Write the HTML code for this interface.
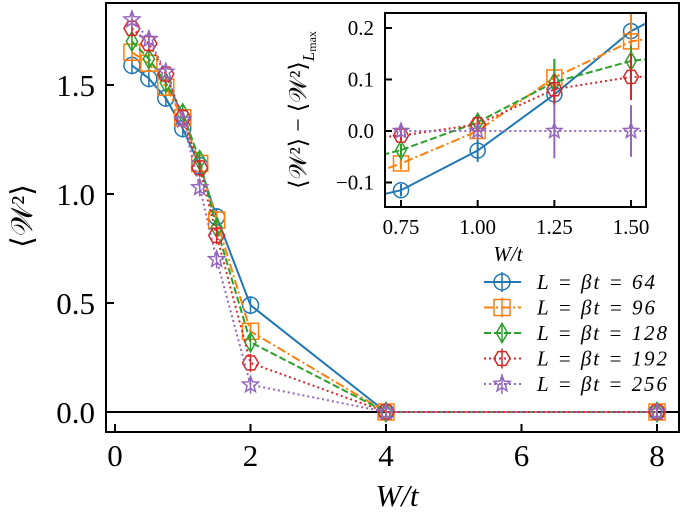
<!DOCTYPE html>
<html><head><meta charset="utf-8"><style>
html,body{margin:0;padding:0;background:#fff;}
svg{display:block;}
text{font-family:"Liberation Serif","DejaVu Serif",serif;fill:#000;}
</style></head><body>
<svg id="chart" width="685" height="518" viewBox="0 0 685 518" xmlns="http://www.w3.org/2000/svg">
<defs>
<clipPath id="mainClip"><rect x="106" y="3" width="573" height="429"/></clipPath>
<clipPath id="insetClip"><rect x="385" y="13" width="261" height="194"/></clipPath>
</defs>
<g id="main"></g>
<g id="inset"></g>
<g id="legend"></g>
</svg>
<script>
const xsMain = [0.25, 0.5, 0.75, 1.0, 1.25, 1.5, 2, 4, 8];
const seriesLabels = ["L = βt = 64", "L = βt = 96", "L = βt = 128", "L = βt = 192", "L = βt = 256"];
const main64  = [1.59, 1.53, 1.44, 1.30, 1.13, 0.895, 0.49, 0.0, 0.0];
const main96  = [1.65, 1.60, 1.49, 1.35, 1.14, 0.88, 0.37, 0.0, 0.0];
const main128 = [1.70, 1.62, 1.51, 1.37, 1.155, 0.845, 0.32, 0.0, 0.0];
const main192 = [1.76, 1.69, 1.55, 1.35, 1.12, 0.81, 0.225, 0.0, 0.0];
const main256 = [1.80, 1.71, 1.56, 1.34, 1.03, 0.70, 0.125, 0.0, 0.0];
const xsInset = [0.5, 0.75, 1.0, 1.25, 1.5, 2];
const inset64  = [-0.149, -0.115, -0.038, 0.071, 0.194, 0.347];
const inset96  = [-0.116, -0.063, 0.0, 0.104, 0.174, 0.22];
const inset128 = [-0.075, -0.037, 0.017, 0.095, 0.136, 0.17];
const inset192 = [-0.02, -0.009, 0.013, 0.081, 0.105, 0.105];
const inset256 = [0.0, 0.0, 0.0, 0.0, 0.0, 0.0];
const err64  = [0.01, 0.012, 0.022, 0.015, 0.04, 0.04];
const err96  = [0.01, 0.012, 0.012, 0.035, 0.06, 0.06];
const err128 = [0.01, 0.012, 0.015, 0.045, 0.03, 0.03];
const err192 = [0.01, 0.01, 0.015, 0.03, 0.045, 0.045];
const err256 = [0.01, 0.012, 0.015, 0.053, 0.05, 0.05];
const mainXTicks = [0, 2, 4, 6, 8];
const mainYTicks = [0.0, 0.5, 1.0, 1.5];
const insetXTicks = [0.75, 1.00, 1.25, 1.50];
const insetYTicks = [-0.1, 0.0, 0.1, 0.2];

const colors = ["#1f77b4", "#ff7f0e", "#2ca02c", "#d62728", "#9467bd"];
const dashes = ["", "9,3,2,3", "7,3", "2,3", "2,3"];
const shapes = ["circle", "square", "diamond", "hexagon", "star"];
const mainData = [main64, main96, main128, main192, main256];
const insetData = [inset64, inset96, inset128, inset192, inset256];
const insetErr = [err64, err96, err128, err192, err256];

const NS = "http://www.w3.org/2000/svg";
function mk(tag, attrs, parent) {
  const e = document.createElementNS(NS, tag);
  for (const k in attrs) e.setAttribute(k, attrs[k]);
  parent.appendChild(e);
  return e;
}
const mx = v => 115 + v * 67.75;
const my = v => 412 - v * 218;
const ix = v => 401 + (v - 0.75) * 306.7;
const iy = v => 131 - v * 515;

function marker(shape, cx, cy, r, color, parent) {
  let el;
  const st = {fill: "none", stroke: color, "stroke-width": 1.5};
  if (shape === "circle") el = mk("circle", Object.assign({cx: cx, cy: cy, r: r}, st), parent);
  else if (shape === "square") el = mk("rect", Object.assign({x: cx - r, y: cy - r, width: 2 * r, height: 2 * r}, st), parent);
  else {
    let pts = [];
    if (shape === "diamond") pts = [[0, -r * 1.2], [r * 0.7, 0], [0, r * 1.2], [-r * 0.7, 0]];
    else if (shape === "hexagon") for (let i = 0; i < 6; i++) { const a = Math.PI / 3 * i; pts.push([r * Math.cos(a), r * Math.sin(a)]); }
    else for (let i = 0; i < 10; i++) { const a = -Math.PI / 2 + Math.PI / 5 * i; const rr = i % 2 ? r * 0.45 : r * 1.05; pts.push([rr * Math.cos(a), rr * Math.sin(a)]); }
    el = mk("polygon", Object.assign({points: pts.map(p => (cx + p[0]) + "," + (cy + p[1])).join(" ")}, st), parent);
  }
  return el;
}

const main = document.getElementById("main");
const zl = mk("line", {x1: 106, x2: 679, y1: my(0), y2: my(0), stroke: "#000", "stroke-width": 2}, main);


const mg = mk("g", {"clip-path": "url(#mainClip)"}, main);
mainData.forEach((ys, s) => {
  const g = mk("g", {}, mg);
  
  
  const ln = mk("polyline", {points: ys.map((y, i) => mx(xsMain[i]) + "," + my(y)).join(" "), fill: "none", stroke: colors[s], "stroke-width": 2, "stroke-dasharray": dashes[s]}, g);
  
  
  ys.forEach((y, i) => {
    const eb = mk("line", {x1: mx(xsMain[i]), x2: mx(xsMain[i]), y1: my(y) - 9, y2: my(y) + 9, stroke: colors[s], "stroke-width": 1.5}, g);
    
    
    const m = marker(shapes[s], mx(xsMain[i]), my(y), 8, colors[s], g);
    
    
  });
});
const fr = mk("rect", {x: 106, y: 3, width: 573, height: 429, fill: "none", stroke: "#000", "stroke-width": 2}, main);


mainXTicks.forEach(t => {
  const tk = mk("line", {x1: mx(t), x2: mx(t), y1: 432, y2: 424, stroke: "#000", "stroke-width": 2}, main);
  
  
  const tl = mk("text", {x: mx(t), y: 466, "font-size": 31, "text-anchor": "middle"}, main);
  tl.textContent = String(t);
  
  
});
mainYTicks.forEach(t => {
  const tk = mk("line", {x1: 106, x2: 114, y1: my(t), y2: my(t), stroke: "#000", "stroke-width": 2}, main);
  
  
  const tl = mk("text", {x: 95, y: my(t) + 11, "font-size": 31, "text-anchor": "end"}, main);
  tl.textContent = t.toFixed(1);
  
  
});
const xt = mk("text", {x: 397, y: 506, "font-size": 31, "font-style": "italic", "text-anchor": "middle"}, main);
xt.textContent = "W/t";


const yt = mk("text", {x: 0, y: 0, "font-size": 30, "text-anchor": "middle", transform: "translate(32,216) rotate(-90)"}, main);
yt.textContent = "⟨𝒲²⟩";



const inset = document.getElementById("inset");
const ibg = mk("rect", {x: 385, y: 13, width: 261, height: 194, fill: "#fff"}, inset);


const ig = mk("g", {"clip-path": "url(#insetClip)"}, inset);
insetData.forEach((ys, s) => {
  const g = mk("g", {}, ig);
  
  
  const ln = mk("polyline", {points: ys.map((y, i) => ix(xsInset[i]) + "," + iy(y)).join(" "), fill: "none", stroke: colors[s], "stroke-width": 2, "stroke-dasharray": dashes[s]}, g);
  
  
  ys.forEach((y, i) => {
    const e = insetErr[s][i];
    const eb = mk("line", {x1: ix(xsInset[i]), x2: ix(xsInset[i]), y1: iy(y + e), y2: iy(y - e), stroke: colors[s], "stroke-width": 2}, g);
    
    
    const m = marker(shapes[s], ix(xsInset[i]), iy(y), 7.5, colors[s], g);
    
    
  });
});
const ifr = mk("rect", {x: 385, y: 13, width: 261, height: 194, fill: "none", stroke: "#000", "stroke-width": 2}, inset);


insetXTicks.forEach(t => {
  const tk = mk("line", {x1: ix(t), x2: ix(t), y1: 207, y2: 200, stroke: "#000", "stroke-width": 2}, inset);
  
  
  const tl = mk("text", {x: ix(t), y: 234, "font-size": 21, "text-anchor": "middle"}, inset);
  tl.textContent = t.toFixed(2);
  
  
});
insetYTicks.forEach(t => {
  const tk = mk("line", {x1: 385, x2: 392, y1: iy(t), y2: iy(t), stroke: "#000", "stroke-width": 2}, inset);
  
  
  const tl = mk("text", {x: 374, y: iy(t) + 7, "font-size": 21, "text-anchor": "end"}, inset);
  tl.textContent = (t < 0 ? "\u2212" : "") + Math.abs(t).toFixed(1);
  
  
});
const ixt = mk("text", {x: 508, y: 261, "font-size": 21, "font-style": "italic", "text-anchor": "middle"}, inset);
ixt.textContent = "W/t";


const iyt = mk("text", {x: 0, y: 0, "font-size": 24, "text-anchor": "middle", transform: "translate(306,110) rotate(-90)"}, inset);
iyt.innerHTML = "⟨𝒲²⟩ − ⟨𝒲²⟩<tspan font-size='17' font-style='italic' dy='8'>L</tspan><tspan font-size='12' dy='2'>max</tspan>";



const legend = document.getElementById("legend");
seriesLabels.forEach((lab, s) => {
  const y = 282 + s * 25.5;
  const g = mk("g", {}, legend);
  
  
  const ln = mk("line", {x1: 484, x2: 521, y1: y, y2: y, stroke: colors[s], "stroke-width": 2, "stroke-dasharray": dashes[s]}, g);
  
  
  const eb = mk("line", {x1: 502, x2: 502, y1: y - 10, y2: y + 10, stroke: colors[s], "stroke-width": 1.5}, g);
  
  
  const m = marker(shapes[s], 502, y, 8, colors[s], g);
  
  
  const t = mk("text", {x: 537, y: y + 7, "font-size": 21, "font-style": "italic", textLength: s < 2 ? 118 : 130, lengthAdjust: "spacing"}, g);
  t.textContent = lab;
  
  
});
</script>
</body></html>
